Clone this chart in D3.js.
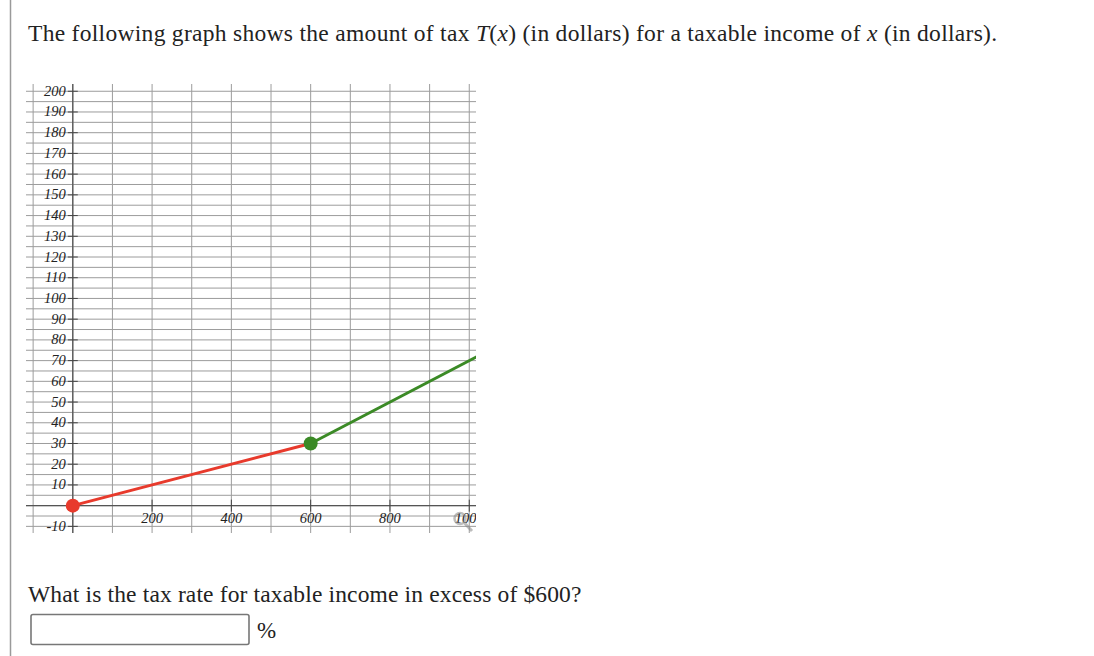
<!DOCTYPE html>
<html>
<head>
<meta charset="utf-8">
<script src="https://cdn.jsdelivr.net/npm/d3@7"></script>
<style>
  body { margin: 0; background: #fff; }
  svg { display: block; }
</style>
</head>
<body>
<svg id="page" width="1094" height="656"></svg>
<script>
// tax chart data
var redSegment = [[0, 0], [600, 30]];
var greenSegment = [[600, 30], [1020, 72]];
var points = [
  { x: 0, y: 0, color: "#e83a2c" },
  { x: 600, y: 30, color: "#3b8a26" }
];
var xTicks = [200, 400, 600, 800, 1000];
var yTicks = [-10, 10, 20, 30, 40, 50, 60, 70, 80, 90, 100, 110, 120, 130, 140, 150, 160, 170, 180, 190, 200];
var xGrid = d3.range(-100, 1001, 100);
var yGrid = d3.range(-10, 201, 5);

function drawPage() {
  var svg = d3.select("#page");

  // left border of the page
  svg.append("line")
    .attr("x1", 10.5).attr("x2", 10.5)
    .attr("y1", 0).attr("y2", 656)
    .attr("stroke", "#9a9a9a")
    .attr("stroke-width", 1.5);

  var serif = "'Liberation Serif', 'Times New Roman', serif";

  var title = svg.append("text")
    .attr("x", 28).attr("y", 41)
    .attr("font-family", serif)
    .attr("font-size", 23.5)
    .attr("letter-spacing", 0.3)
    .attr("fill", "#222");
  title.append("tspan").text("The following graph shows the amount of tax ");
  title.append("tspan").attr("font-style", "italic").text("T");
  title.append("tspan").text("(");
  title.append("tspan").attr("font-style", "italic").text("x");
  title.append("tspan").text(") (in dollars) for a taxable income of ");
  title.append("tspan").attr("font-style", "italic").text("x");
  title.append("tspan").text(" (in dollars).");

  // graph box
  var boxLeft = 26, boxRight = 476, boxTop = 84, boxBottom = 533;
  var x = d3.scaleLinear().domain([-118, 1017]).range([boxLeft, boxRight]);
  var y = d3.scaleLinear().domain([-13.2, 203.5]).range([boxBottom, boxTop]);

  svg.append("defs").append("clipPath")
    .attr("id", "box")
    .append("rect")
    .attr("x", boxLeft).attr("y", boxTop)
    .attr("width", boxRight - boxLeft).attr("height", boxBottom - boxTop);

  var g = svg.append("g").attr("clip-path", "url(#box)");

  g.selectAll(".vgrid")
    .data(xGrid)
    .enter().append("line")
    .attr("x1", function(d) { return x(d); })
    .attr("x2", function(d) { return x(d); })
    .attr("y1", boxTop).attr("y2", boxBottom)
    .attr("stroke", "#9c9c9c")
    .attr("stroke-width", 1);

  g.selectAll(".hgrid")
    .data(yGrid)
    .enter().append("line")
    .attr("y1", function(d) { return y(d); })
    .attr("y2", function(d) { return y(d); })
    .attr("x1", boxLeft).attr("x2", boxRight)
    .attr("stroke", "#9c9c9c")
    .attr("stroke-width", 1);

  // axes
  g.append("line")
    .attr("x1", boxLeft).attr("x2", boxRight)
    .attr("y1", y(0)).attr("y2", y(0))
    .attr("stroke", "#555").attr("stroke-width", 1.3);
  g.append("line")
    .attr("x1", x(0)).attr("x2", x(0))
    .attr("y1", boxTop).attr("y2", boxBottom)
    .attr("stroke", "#555").attr("stroke-width", 1.3);

  // ticks crossing the axes
  g.selectAll(".xtick")
    .data(xTicks)
    .enter().append("line")
    .attr("x1", function(d) { return x(d); })
    .attr("x2", function(d) { return x(d); })
    .attr("y1", y(0) - 6).attr("y2", y(0) + 6)
    .attr("stroke", "#444").attr("stroke-width", 1);
  g.selectAll(".ytick")
    .data(yTicks)
    .enter().append("line")
    .attr("y1", function(d) { return y(d); })
    .attr("y2", function(d) { return y(d); })
    .attr("x1", x(0) - 5).attr("x2", x(0) + 5)
    .attr("stroke", "#444").attr("stroke-width", 1);

  g.selectAll(".xlab")
    .data(xTicks)
    .enter().append("text")
    .attr("x", function(d) { return x(d); })
    .attr("y", y(0) + 17)
    .attr("text-anchor", "middle")
    .attr("font-family", serif)
    .attr("font-style", "italic")
    .attr("font-size", 14.5)
    .attr("fill", "#222")
    .text(function(d) { return d; });

  g.selectAll(".ylab")
    .data(yTicks)
    .enter().append("text")
    .attr("x", x(0) - 7)
    .attr("y", function(d) { return y(d) + 4.5; })
    .attr("text-anchor", "end")
    .attr("font-family", serif)
    .attr("font-style", "italic")
    .attr("font-size", 14.5)
    .attr("fill", "#222")
    .text(function(d) { return d; });

  var line = d3.line()
    .x(function(d) { return x(d[0]); })
    .y(function(d) { return y(d[1]); });

  g.append("path")
    .attr("d", line(redSegment))
    .attr("fill", "none")
    .attr("stroke", "#e83a2c")
    .attr("stroke-width", 3);
  g.append("path")
    .attr("d", line(greenSegment))
    .attr("fill", "none")
    .attr("stroke", "#3b8a26")
    .attr("stroke-width", 3);

  g.selectAll(".pt")
    .data(points)
    .enter().append("circle")
    .attr("cx", function(d) { return x(d.x); })
    .attr("cy", function(d) { return y(d.y); })
    .attr("r", 7)
    .attr("fill", function(d) { return d.color; });

  // magnifier icon in the corner
  var zoomIcon = svg.append("g").attr("opacity", 0.55);
  zoomIcon.append("circle")
    .attr("cx", 460).attr("cy", 518.5).attr("r", 5.5)
    .attr("fill", "none").attr("stroke", "#888").attr("stroke-width", 2.5);
  zoomIcon.append("line")
    .attr("x1", 464).attr("y1", 522.5).attr("x2", 472).attr("y2", 531)
    .attr("stroke", "#888").attr("stroke-width", 3);

  // question below the graph
  svg.append("text")
    .attr("x", 28).attr("y", 602)
    .attr("font-family", serif)
    .attr("font-size", 23.5)
    .attr("letter-spacing", 0.15)
    .attr("fill", "#222")
    .text("What is the tax rate for taxable income in excess of $600?");

  svg.append("rect")
    .attr("x", 31).attr("y", 614.5)
    .attr("width", 218).attr("height", 30)
    .attr("rx", 2)
    .attr("fill", "#fff")
    .attr("stroke", "#777")
    .attr("stroke-width", 1.6);

  svg.append("text")
    .attr("x", 257).attr("y", 638)
    .attr("font-family", serif)
    .attr("font-size", 23)
    .attr("fill", "#222")
    .text("%");
}

drawPage();
</script>
</body>
</html>
